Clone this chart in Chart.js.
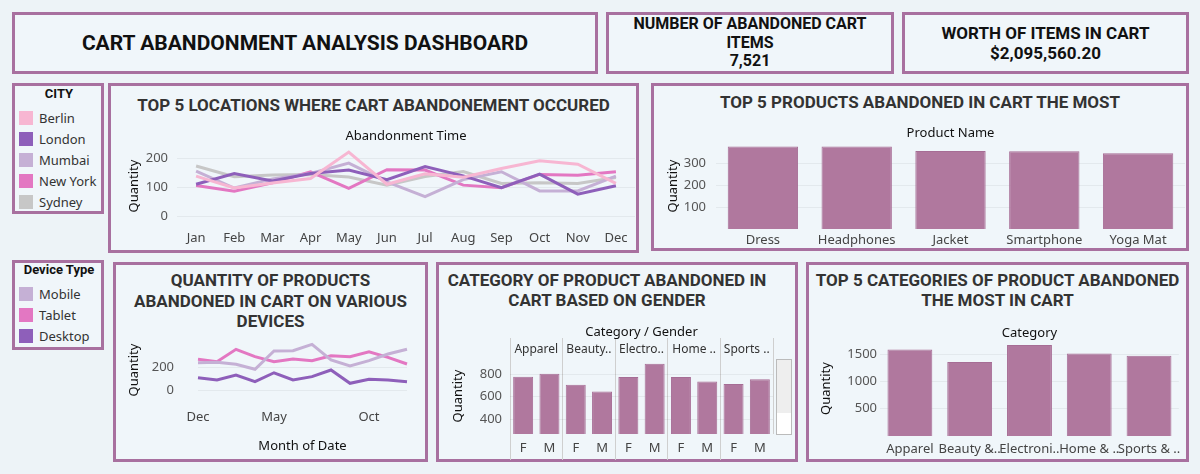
<!DOCTYPE html>
<html>
<head>
<meta charset="utf-8">
<script src="https://cdn.jsdelivr.net/npm/chart.js@4"></script>
<style>
body { margin:0; width:1200px; height:474px; background:#edf3f7; font-family:Roboto, sans-serif; position:relative; overflow:hidden; }
.box { position:absolute; box-sizing:border-box; border:3px solid #a8709f; background:#f0f6fa; }
.t { position:absolute; text-align:center; font-weight:700; color:#333; font-size:17px; line-height:20px; }
.k { position:absolute; text-align:center; font-weight:700; color:#111; }
.leg { position:absolute; font-family:"Noto Sans", sans-serif; font-size:13px; color:#333; }
.leg b { display:block; text-align:center; font-family:Roboto, sans-serif; font-size:13px; color:#111; margin-bottom:7px; }
.leg div { height:21px; line-height:21px; white-space:nowrap; }
.leg span { display:inline-block; width:14px; height:14px; vertical-align:-2px; margin-right:6px; }
canvas { position:absolute; }
.scroll { position:absolute; left:776px; top:359px; width:16px; height:76px; box-sizing:border-box; border:1px solid #bbb; background:linear-gradient(#eee 0 71%, #fff 71%); }
</style>
</head>
<body>

<!-- header row -->
<div class="box" style="left:12px;top:12px;width:586px;height:62px"></div>
<div class="k" style="left:12px;top:31px;width:586px;font-size:21px;line-height:25px">CART ABANDONMENT ANALYSIS DASHBOARD</div>
<div class="box" style="left:606px;top:12px;width:288px;height:62px"></div>
<div class="k" style="left:606px;top:15px;width:288px;font-size:16px;line-height:18.5px">NUMBER OF ABANDONED CART<br>ITEMS<br>7,521</div>
<div class="box" style="left:902px;top:12px;width:287px;height:62px"></div>
<div class="k" style="left:902px;top:23px;width:287px;font-size:17px;line-height:20px">WORTH OF ITEMS IN CART<br>$2,095,560.20</div>

<!-- city legend + locations -->
<div class="box" style="left:12px;top:83px;width:92px;height:131px"></div>
<div class="leg" id="cityLegend" style="left:19px;top:86px;width:80px"><b>CITY</b></div>
<div class="box" style="left:108px;top:83px;width:531px;height:170px"></div>
<div class="t" style="left:108px;top:95px;width:531px">TOP 5 LOCATIONS WHERE CART ABANDONEMENT OCCURED</div>
<canvas id="cityChart" width="522" height="125" style="left:114px;top:124px"></canvas>

<!-- products -->
<div class="box" style="left:651px;top:83px;width:538px;height:168px"></div>
<div class="t" style="left:651px;top:92px;width:538px">TOP 5 PRODUCTS ABANDONED IN CART THE MOST</div>
<canvas id="productChart" width="531" height="127" style="left:655px;top:120px"></canvas>

<!-- device legend + device chart -->
<div class="box" style="left:12px;top:260px;width:92px;height:90px"></div>
<div class="leg" id="deviceLegend" style="left:19px;top:262px;width:80px"><b>Device Type</b></div>
<div class="box" style="left:113px;top:262px;width:315px;height:200px"></div>
<div class="t" style="left:113px;top:270px;width:315px;line-height:20.5px">QUANTITY OF PRODUCTS<br>ABANDONED IN CART ON VARIOUS<br>DEVICES</div>
<canvas id="deviceChart" width="300" height="128" style="left:118px;top:330px"></canvas>

<!-- gender chart -->
<div class="box" style="left:436px;top:262px;width:362px;height:200px"></div>
<div class="t" style="left:436px;top:270px;width:342px">CATEGORY OF PRODUCT ABANDONED IN<br>CART BASED ON GENDER</div>
<canvas id="genderChart" width="336" height="140" style="left:440px;top:320px"></canvas>
<div class="scroll"></div>

<!-- category chart -->
<div class="box" style="left:806px;top:262px;width:383px;height:200px"></div>
<div class="t" style="left:806px;top:270px;width:383px">TOP 5 CATEGORIES OF PRODUCT ABANDONED<br>THE MOST IN CART</div>
<canvas id="categoryChart" width="374" height="138" style="left:812px;top:320px"></canvas>

<script>
// abandonment by city, per month
const months = ['Jan', 'Feb', 'Mar', 'Apr', 'May', 'Jun', 'Jul', 'Aug', 'Sep', 'Oct', 'Nov', 'Dec'];
const cityNames = ['Berlin', 'London', 'Mumbai', 'New York', 'Sydney'];
const berlinQty = [138, 97, 114, 130, 221, 110, 146, 134, 164, 191, 179, 113];
const londonQty = [110, 147, 121, 147, 159, 126, 171, 139, 98, 145, 76, 105];
const mumbaiQty = [155, 97, 128, 147, 183, 118, 67, 126, 153, 87, 87, 138];
const newYorkQty = [106, 86, 115, 153, 96, 160, 159, 107, 98, 144, 141, 153];
const sydneyQty = [173, 136, 142, 144, 135, 107, 137, 154, 113, 115, 113, 133];
const cityTicks = [0, 100, 200];

// top products
const products = ['Dress', 'Headphones', 'Jacket', 'Smartphone', 'Yoga Mat'];
const productQty = [375, 375, 355, 354, 344];
const productTicks = [100, 200, 300];

// device type per month
const deviceNames = ['Mobile', 'Tablet', 'Desktop'];
const deviceMonthTicks = ['Dec', '', '', '', 'May', '', '', '', '', 'Oct', '', ''];
const mobileQty = [238, 241, 224, 180, 339, 342, 397, 261, 209, 255, 313, 354];
const tabletQty = [267, 246, 354, 290, 246, 270, 255, 298, 290, 333, 284, 226];
const desktopQty = [107, 87, 130, 72, 150, 87, 116, 174, 58, 93, 87, 72];
const deviceTicks = [0, 200];

// category / gender
const genderCats = ['Apparel', 'Beauty..', 'Electro..', 'Home ..', 'Sports ..'];
const genders = ['F', 'M', 'F', 'M', 'F', 'M', 'F', 'M', 'F', 'M'];
const genderQty = [779, 805, 708, 647, 775, 893, 775, 735, 713, 757];
const genderTicks = [400, 600, 800];

// top categories
const categories = ['Apparel', 'Beauty &..', 'Electroni..', 'Home & ..', 'Sports & ..'];
const categoryQty = [1584, 1355, 1668, 1510, 1470];
const categoryTicks = [500, 1000, 1500];

const cityColors = ['#f7b6d2', '#8e5fba', '#c5b0d5', '#e377c2', '#c7c7c7'];
const deviceColors = ['#c5b0d5', '#e377c2', '#8e5fba'];
const barColor = '#b0789e';

const tickFont = { family: 'Noto Sans', size: 13 };
const titleFont = { family: 'Noto Sans', size: 13 };

Chart.defaults.animation = false;
Chart.defaults.plugins.legend.display = false;
Chart.defaults.plugins.tooltip.enabled = false;
Chart.defaults.devicePixelRatio = 1;
Chart.defaults.color = '#444';

function fillLegend(id, names, colors) {
    const el = document.getElementById(id);
    names.forEach((n, i) => {
        const row = document.createElement('div');
        row.innerHTML = '<span style="background:' + colors[i] + '"></span>' + n;
        el.appendChild(row);
    });
}
fillLegend('cityLegend', cityNames, cityColors);
fillLegend('deviceLegend', deviceNames, deviceColors);

function yScale(min, max, ticks, width, pad) {
    return {
        min: min,
        max: max,
        afterBuildTicks: s => { s.ticks = ticks.map(v => ({ value: v })); },
        afterFit: s => { s.width = width; s.paddingTop = 0; s.paddingBottom = 0; },
        grid: { color: 'rgba(0,0,0,0.05)', drawTicks: false },
        border: { display: false },
        ticks: { font: tickFont, color: '#555', padding: pad, callback: v => String(v) },
        title: { display: true, text: 'Quantity', font: titleFont, color: '#111', padding: 0 },
    };
}

function bottomX(height, pad) {
    return {
        afterFit: s => { s.height = height; },
        grid: { display: false, drawTicks: false },
        border: { display: false },
        ticks: { font: tickFont, color: '#444', padding: pad, autoSkip: false, maxRotation: 0 },
    };
}

function topTitle(text, labels, height, top) {
    return {
        type: 'category',
        labels: labels,
        position: 'top',
        afterFit: s => { s.height = height; },
        grid: { display: false, drawTicks: false },
        border: { display: false },
        ticks: { display: false },
        title: { display: true, text: text, font: titleFont, color: '#111', padding: { top: top, bottom: 0 } },
    };
}

function lineSet(label, data, color) {
    return { label: label, data: data, borderColor: color, backgroundColor: color, borderWidth: 3, pointRadius: 0, tension: 0 };
}

new Chart(document.getElementById('cityChart'), {
    type: 'line',
    data: {
        labels: months,
        datasets: [
            lineSet('Berlin', berlinQty, cityColors[0]),
            lineSet('London', londonQty, cityColors[1]),
            lineSet('Mumbai', mumbaiQty, cityColors[2]),
            lineSet('New York', newYorkQty, cityColors[3]),
            lineSet('Sydney', sydneyQty, cityColors[4]),
        ],
    },
    options: {
        responsive: false,
        layout: { padding: { left: 12, right: 1 } },
        scales: {
            x: Object.assign(bottomX(27, 8), { offset: true }),
            x2: topTitle('Abandonment Time', months, 26, 4),
            y: yScale(-20, 228, cityTicks, 51, 9),
        },
    },
});

new Chart(document.getElementById('productChart'), {
    type: 'bar',
    data: {
        labels: products,
        datasets: [{ data: productQty, backgroundColor: barColor, borderColor: '#a66d95', borderWidth: 1, barPercentage: 0.75, categoryPercentage: 1 }],
    },
    options: {
        responsive: false,
        layout: { padding: { left: 10, right: 1 } },
        scales: {
            x: bottomX(18, 3),
            x2: topTitle('Product Name', products, 23, 5),
            y: yScale(0, 391, productTicks, 51, 10),
        },
    },
});

const deviceX = bottomX(58, 9);
deviceX.title = { display: true, text: 'Month of Date', font: titleFont, color: '#111', padding: { top: 8, bottom: 4 } };

new Chart(document.getElementById('deviceChart'), {
    type: 'line',
    data: {
        labels: deviceMonthTicks,
        datasets: [
            lineSet('Mobile', mobileQty, deviceColors[0]),
            lineSet('Tablet', tabletQty, deviceColors[1]),
            lineSet('Desktop', desktopQty, deviceColors[2]),
        ],
    },
    options: {
        responsive: false,
        layout: { padding: { top: 10, left: 8, right: 11 } },
        scales: {
            x: deviceX,
            y: yScale(-87, 435, deviceTicks, 72, 24),
        },
    },
});

new Chart(document.getElementById('genderChart'), {
    type: 'bar',
    data: {
        labels: genders,
        datasets: [{ data: genderQty, backgroundColor: barColor, borderColor: '#a66d95', borderWidth: 1, barPercentage: 0.76, categoryPercentage: 1 }],
    },
    options: {
        responsive: false,
        layout: { padding: { left: 10, right: 3 } },
        scales: {
            x: {
                afterFit: s => { s.height = 26; },
                grid: {
                    offset: true,
                    drawOnChartArea: false,
                    color: '#cfcfcf',
                    tickLength: 26,
                    lineWidth: c => (c.index % 2 === 0 ? 1 : 0),
                },
                border: { display: false },
                ticks: { font: tickFont, color: '#444', padding: -20, autoSkip: false, maxRotation: 0 },
            },
            x2: {
                type: 'category',
                labels: genderCats,
                position: 'top',
                offset: true,
                afterFit: s => { s.height = 38; },
                grid: { offset: true, color: '#cfcfcf', tickLength: 20 },
                border: { display: false },
                ticks: { font: { family: 'Noto Sans', size: 12 }, color: '#333', padding: -19, autoSkip: false, maxRotation: 0 },
                title: { display: true, text: 'Category / Gender', font: titleFont, color: '#111', padding: { top: 4, bottom: 0 } },
            },
            y: yScale(269, 945, genderTicks, 60, 8),
        },
    },
});

new Chart(document.getElementById('categoryChart'), {
    type: 'bar',
    data: {
        labels: categories,
        datasets: [{ data: categoryQty, backgroundColor: barColor, borderColor: '#a66d95', borderWidth: 1, barPercentage: 0.75, categoryPercentage: 1 }],
    },
    options: {
        responsive: false,
        layout: { padding: { left: 6, right: 1 } },
        scales: {
            x: bottomX(22, 5),
            x2: topTitle('Category', categories, 21, 5),
            y: yScale(0, 1740, categoryTicks, 62, 3),
        },
    },
});
</script>
</body>
</html>
